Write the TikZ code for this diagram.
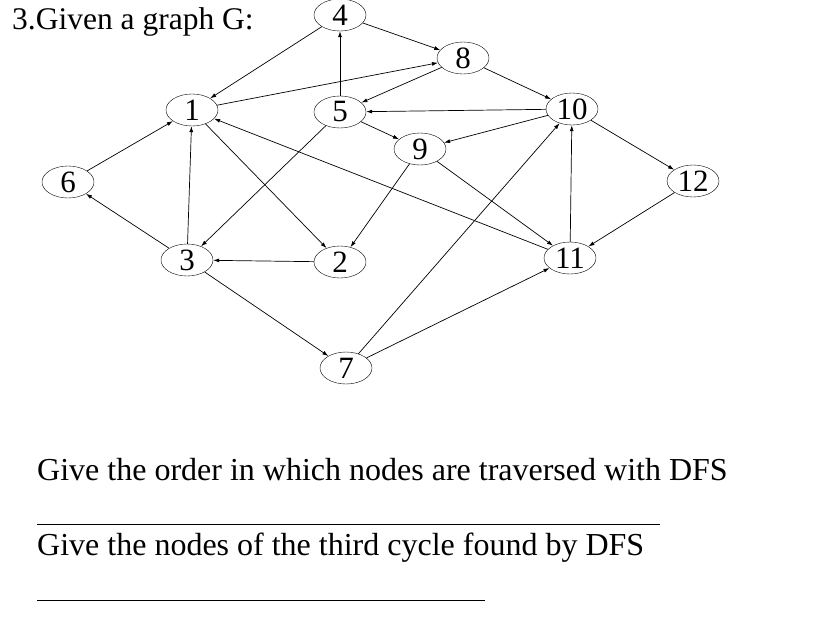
\documentclass[tikz,border=0pt]{standalone}
\usepackage{fontspec}
\setmainfont{Liberation Serif}
\usetikzlibrary{shapes.geometric,arrows.meta}
\begin{document}
\begin{tikzpicture}[x=1pt,y=-1pt,
  vtx/.style={draw,ellipse,minimum width=52pt,minimum height=32pt,inner sep=0pt,font=\fontsize{31}{32}\selectfont},
  edge/.style={-{Latex[length=6pt,width=4pt]},line width=0.7pt},
  txt/.style={anchor=west,inner sep=0pt,font=\fontsize{32}{34}\selectfont}]
\useasboundingbox (0,0) rectangle (818,626);
\node[anchor=west,inner sep=0pt,font=\fontsize{31.5}{33}\selectfont] (title) at (12,22) {3.Given a graph G:};
\node[vtx] (n4) at (340,15) {4};
\node[vtx] (n8) at (463,58) {8};
\node[vtx] (n1) at (192,110) {1};
\node[vtx] (n5) at (340,112) {5};
\node[vtx] (n10) at (572,109) {10};
\node[vtx] (n9) at (420,149) {9};
\node[vtx] (n6) at (68,182) {6};
\node[vtx] (n12) at (693,181) {12};
\node[vtx] (n3) at (187,260) {3};
\node[vtx] (n2) at (340,262) {2};
\node[vtx] (n11) at (570,258) {11};
\node[vtx] (n7) at (346,368) {7};
\foreach \a/\b in {n4/n1,n4/n8,n5/n4,n1/n8,n8/n5,n10/n5,n5/n9,n5/n3,n1/n2,n3/n1,n6/n1,n3/n6,n2/n3,n9/n2,n11/n1,n8/n10,n10/n9,n9/n11,n7/n10,n11/n10,n10/n12,n12/n11,n7/n11,n3/n7}
  \draw[edge] (\a) -- (\b);
\node[txt] (q1) at (37,470) {Give the order in which nodes are traversed with DFS};
\coordinate (l1a) at (37,524); \coordinate (l1b) at (660,524);
\draw[line width=0.8pt] (l1a) -- (l1b);
\node[txt] (q2) at (37,548) {Give the nodes of the third cycle found by DFS};
\coordinate (l2a) at (37,600); \coordinate (l2b) at (485,600);
\draw[line width=0.8pt] (l2a) -- (l2b);
\end{tikzpicture}
\end{document}
